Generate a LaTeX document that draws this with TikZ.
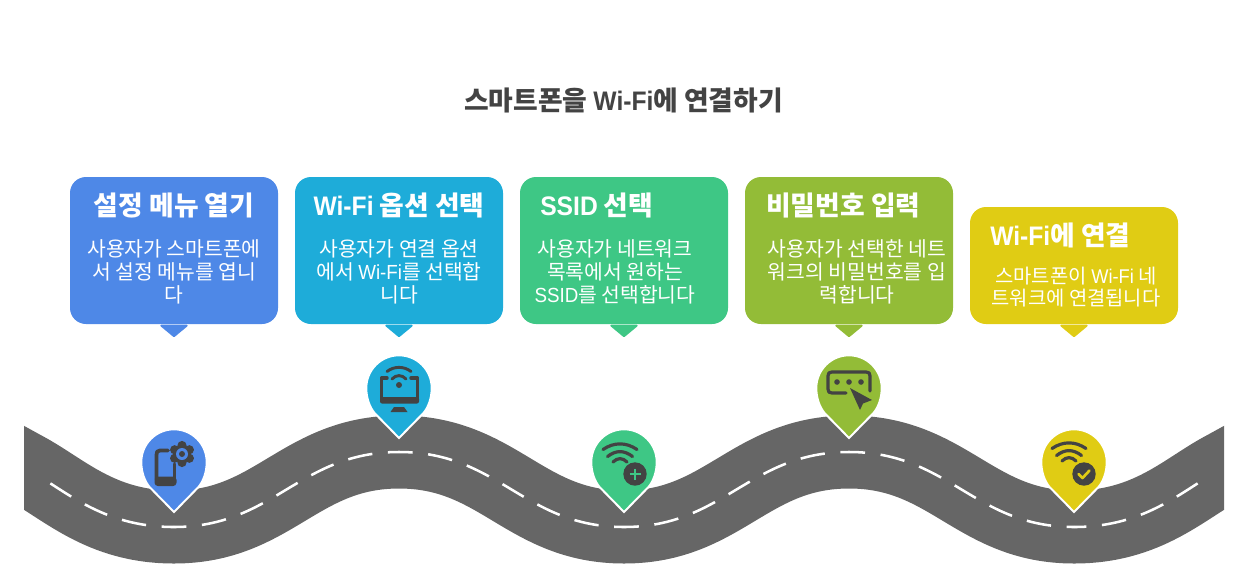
\documentclass[tikz,border=0pt]{standalone}
\usepackage{fontspec}
\setmainfont{Noto Sans CJK KR}
\newfontfamily\latfont[FakeStretch=0.92]{Liberation Sans}
\newcommand{\lat}[1]{{\latfont #1}}
\definecolor{cardblue}{HTML}{4E88E7}
\definecolor{cardcyan}{HTML}{1EACD9}
\definecolor{cardgreen}{HTML}{3EC785}
\definecolor{cardolive}{HTML}{93BC37}
\definecolor{cardyellow}{HTML}{E0CC14}
\definecolor{roadgrey}{HTML}{666666}
\definecolor{icondark}{HTML}{434343}
\tikzset{
  cardbox/.style={rectangle,rounded corners=12pt,minimum width=156pt,inner sep=0pt},
  cardtip/.style={line width=1.5pt,line join=round},
  cardhead/.style={inner sep=0.75pt,text=white,font=\fontsize{20.1}{23}\selectfont\bfseries},
  cardtext/.style={inner sep=0.75pt,text=white,align=center,font=\fontsize{15.3}{17}\selectfont},
  iconline/.style={draw=icondark,line width=2.4pt,line cap=round,line join=round},
  roaddash/.style={white,line width=1.9pt,dash pattern=on 18.5pt off 11.75pt,dash phase=9.25pt},
  pinshape/.pic={
    \draw [draw=white,line width=1.5pt,fill=pincolor] (0,0) -- (24.5,-25) .. controls (29.5,-31) and (32.7,-40) .. (32.7,-50)
      arc [start angle=0,end angle=-180,x radius=32.7,y radius=32.7] .. controls (-32.7,-40) and (-29.5,-31) .. (-24.5,-25) -- cycle ;
  },
  wifimark/.pic={
    \draw [iconline] (-17,-23.5) .. controls (-6,-31) and (6,-31) .. (17,-23.5) ;
    \draw [iconline] (-12.5,-16.5) .. controls (-4,-23) and (4,-23) .. (12.5,-16.5) ;
    \draw [iconline] (-7,-11) .. controls (-2.5,-15.5) and (2.5,-15.5) .. (7,-11) ;
  },
}
\begin{document}
\begin{tikzpicture}[x=0.75pt,y=0.75pt,yscale=-1,xscale=1]
\useasboundingbox (0,0) rectangle (1244,582);
%road
\begin{scope}
\clip (24,380) rectangle (1224,582);
\draw [roadgrey,line width=54.75pt] (4,456.5) -- (24,467.5) .. controls (64,488.5) and (100,527) .. (174,527) .. controls (274,527) and (299,452) .. (399,452) .. controls (499,452) and (524,527) .. (624,527) .. controls (724,527) and (749,452) .. (849,452) .. controls (949,452) and (974,527) .. (1074,527) .. controls (1148,527) and (1184,488.5) .. (1224,467.5) -- (1244,456.5) ;
\end{scope}
\begin{scope}
\clip (48,380) rectangle (1200,582);
\draw [roaddash] (174,527) .. controls (100,527) and (64,488.5) .. (24,467.5) ;
\draw [roaddash] (174,527) .. controls (274,527) and (299,452) .. (399,452) .. controls (499,452) and (524,527) .. (624,527) .. controls (724,527) and (749,452) .. (849,452) .. controls (949,452) and (974,527) .. (1074,527) ;
\draw [roaddash] (1074,527) .. controls (1148,527) and (1184,488.5) .. (1224,467.5) ;
\end{scope}
%title
\node (title) at (623.5,100) [inner sep=0.75pt,text=icondark,font=\fontsize{20.1}{23}\selectfont\bfseries] {스마트폰을 \lat{Wi-Fi}에 연결하기};
%cards
\foreach \cname/\cx/\cy/\ch/\ccol in {cardA/174/250.5/110.25pt/cardblue,cardB/399/250.5/110.25pt/cardcyan,cardC/624/250.5/110.25pt/cardgreen,cardD/849/250.5/110.25pt/cardolive,cardE/1074/265.5/87.75pt/cardyellow}{
  \node (\cname) at (\cx,\cy) [cardbox,fill=\ccol,minimum height=\ch] {};
  \draw [cardtip,draw=\ccol,fill=\ccol] ([xshift=-9.5pt,yshift=1pt]\cname.south) -- ([yshift=8.9pt]\cname.south) -- ([xshift=9.5pt,yshift=1pt]\cname.south) -- cycle ;
}
\node (headA) at (174,205) [cardhead] {설정 메뉴 열기};
\node (headB) at (399,205) [cardhead] {\lat{Wi-Fi} 옵션 선택};
\node (headC) at (539,205) [cardhead,anchor=west] {\lat{SSID} 선택};
\node (headD) at (765,205) [cardhead,anchor=west] {비밀번호 입력};
\node (headE) at (989,235) [cardhead,anchor=west] {\lat{Wi-Fi}에 연결};
\node (textA) at (174,272) [cardtext] {사용자가 스마트폰에\\서 설정 메뉴를 엽니\\다};
\node (textB) at (399,272) [cardtext] {사용자가 연결 옵션\\에서 \lat{Wi-Fi}를 선택합\\니다};
\node (textC) at (615,272) [cardtext] {사용자가 네트워크\\목록에서 원하는\\\lat{SSID}를 선택합니다};
\node (textD) at (857,272) [cardtext] {사용자가 선택한 네트\\워크의 비밀번호를 입\\력합니다};
\node (textE) at (1076,287) [cardtext,font=\fontsize{14.9}{17}\selectfont] {스마트폰이 \lat{Wi-Fi} 네\\트워크에 연결됩니다};
%pins
\colorlet{pincolor}{cardblue}
\pic [transform shape] at (174,512) {pinshape};
\colorlet{pincolor}{cardcyan}
\pic [transform shape] at (399,438) {pinshape};
\colorlet{pincolor}{cardgreen}
\pic [transform shape] at (624,512) {pinshape};
\colorlet{pincolor}{cardolive}
\pic [transform shape] at (849,438) {pinshape};
\colorlet{pincolor}{cardyellow}
\pic [transform shape] at (1074,512) {pinshape};
%phone and gear
\draw [iconline,line width=2.8pt] (168,450.5) -- (160,450.5) .. controls (157,450.5) and (156.5,452) .. (156.5,455) -- (156.5,479) ;
\draw [iconline,line width=2.8pt] (174.5,464) -- (174.5,479) ;
\fill [icondark,rounded corners=2.5pt] (154.5,476.5) rectangle (176.5,486);
\foreach \a in {0,60,...,300}{
  \fill [icondark] (182,454) ++(\a+90:8.5) circle [radius=4.6];
}
\fill [icondark] (182,454) circle [radius=9];
\fill [cardblue] (182,454) circle [radius=6];
\fill [icondark] (182,454) circle [radius=3];
%monitor
\draw [iconline,line width=2.6pt] (387,378) -- (381.5,378) -- (381.5,399) ;
\draw [iconline,line width=2.6pt] (411,378) -- (417.5,378) -- (417.5,399) ;
\fill [icondark,rounded corners=1.5pt] (380,397) rectangle (419,403.5);
\fill [icondark] (394,407) -- (404,407) -- (407.5,412) -- (390.5,412) -- cycle ;
\fill [icondark] (399,385) circle [radius=3];
\draw [iconline,line width=2.2pt] (392,379) .. controls (396,374.5) and (402,374.5) .. (406,379) ;
\draw [iconline,line width=2.2pt] (387,371.5) .. controls (394,366) and (404,366) .. (411,371.5) ;
%wifi plus
\pic [transform shape] at (620,473) {wifimark};
\fill [icondark] (635,474) circle [radius=11.7];
\draw [cardgreen,line width=2.2pt] (629.5,474) -- (640.5,474) (635,468.5) -- (635,479.5) ;
%keypad and cursor
\draw [iconline] (846,393) -- (832,393) .. controls (829,393) and (828,392) .. (828,389) -- (828,376) .. controls (828,373) and (829,372) .. (832,372) -- (866,372) .. controls (869,372) and (870,373) .. (870,376) -- (870,391) ;
\foreach \dx in {837,849,861}{
  \fill [icondark] (\dx,382) circle [radius=2.8];
}
\fill [icondark,line join=round] (850,388) -- (872,400) -- (863,403.5) -- (860,410) -- cycle ;
%wifi check
\pic [transform shape] at (1069,472) {wifimark};
\fill [icondark] (1084,474) circle [radius=11.7];
\draw [cardyellow,line width=2pt,line cap=round,line join=round] (1078.5,474) -- (1082.5,478) -- (1089.5,470.5) ;
\end{tikzpicture}
\end{document}
